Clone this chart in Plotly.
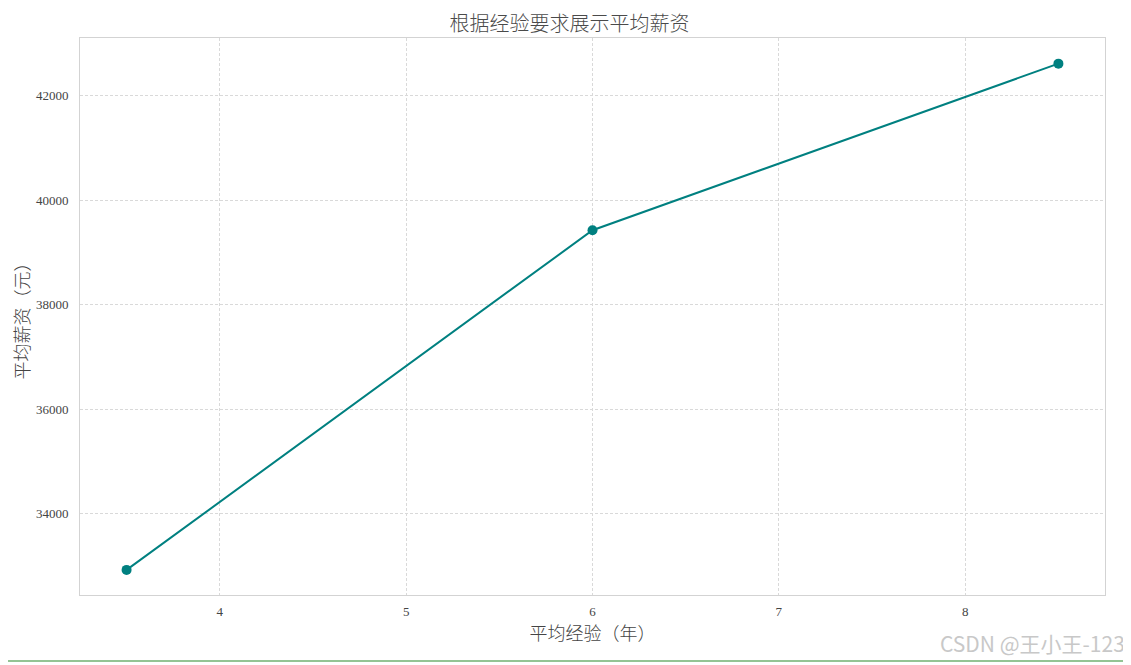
import plotly.graph_objects as go

experience = [3.5, 6.0, 8.5]
avg_salary = [32930, 39425, 42610]
x_ticks = [4, 5, 6, 7, 8]
y_ticks = [34000, 36000, 38000, 40000, 42000]

title_text = "根据经验要求展示平均薪资"
x_title = "平均经验（年）"
y_title = "平均薪资（元）"

teal = "#008080"
cjk = "Noto Sans CJK SC"
serif = "Liberation Serif"

fig = go.Figure()
fig.add_trace(go.Scatter(
    x=experience, y=avg_salary, mode="lines+markers",
    line=dict(color=teal, width=2),
    marker=dict(color=teal, size=10),
    showlegend=False,
))

axis_common = dict(
    showline=True, linecolor="#d3d3d3", linewidth=1, mirror=True,
    showgrid=True, gridcolor="#d9d9d9", griddash="3px,2px", gridwidth=1,
    zeroline=False, ticks="", tickformat="d",
    tickfont=dict(family=serif, size=13, color="#444444"),
)

fig.update_layout(
    width=1123, height=657,
    paper_bgcolor="white", plot_bgcolor="white",
    margin=dict(l=72, r=26, t=30, b=70),
    title=dict(text=title_text, x=0.5, xanchor="center", y=0.976, yanchor="middle",
               font=dict(family=cjk, size=20, color="#4a4a4a", weight=300)),
    xaxis=dict(range=[3.25, 8.75], tickvals=x_ticks, ticklabelstandoff=4,
               title=dict(text=x_title, font=dict(family=cjk, size=18, color="#444444", weight=300), standoff=1),
               **axis_common),
    yaxis=dict(range=[32450, 43100], tickvals=y_ticks, ticklabelstandoff=8,
               title=dict(text=y_title, font=dict(family=cjk, size=18, color="#444444", weight=300), standoff=4),
               **axis_common),
    annotations=[dict(text="CSDN @王小王-123", xref="paper", yref="paper",
                      x=1.0, y=-0.087, xanchor="right", yanchor="middle", showarrow=False,
                      xshift=22,
                      font=dict(family=cjk, size=21, color="#c8c8c8"))],
    shapes=[dict(type="line", xref="paper", yref="paper", x0=-0.08, x1=1.03,
                 y0=-0.1185, y1=-0.1185, line=dict(color="#70b070", width=1.5))],
)

fig.write_html("out.html")
